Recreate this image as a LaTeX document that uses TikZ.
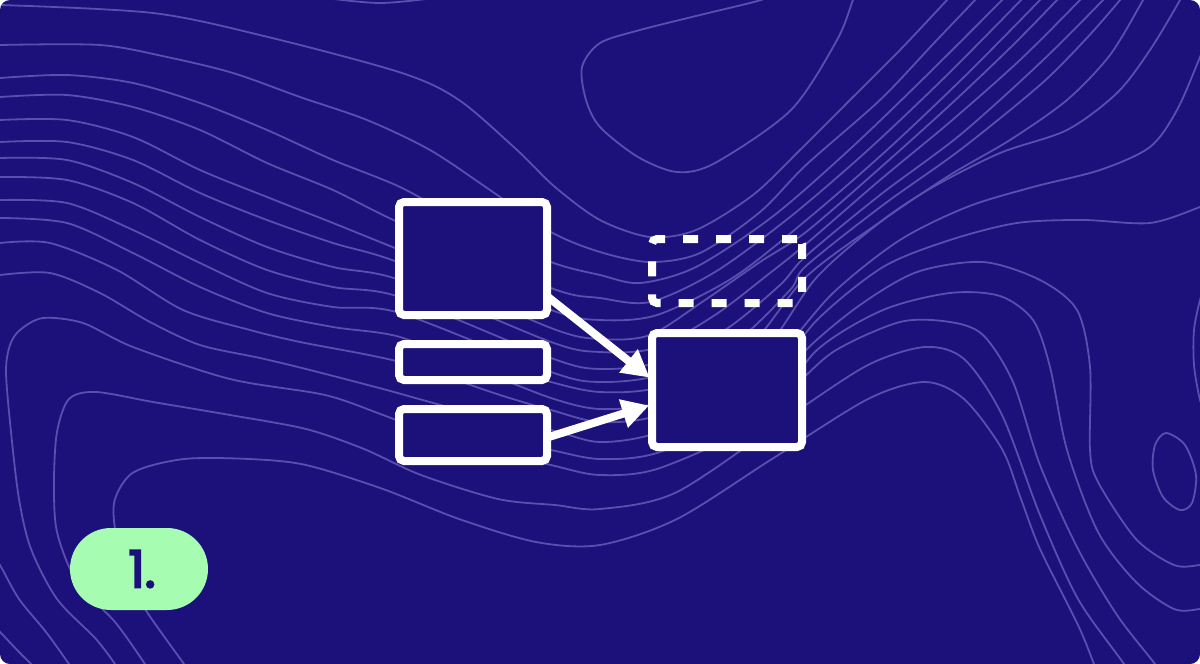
\documentclass[tikz,border=0pt]{standalone}
\usepackage{fontspec}
\newfontfamily\badgefont{Poppins}[FakeBold=4]
\usetikzlibrary{arrows.meta}
\definecolor{bg}{RGB}{28,17,122}
\definecolor{contourc}{RGB}{90,79,174}
\definecolor{mint}{RGB}{166,253,178}
\definecolor{ink}{RGB}{28,17,122}
\begin{document}
\begin{tikzpicture}[x=1pt,y=-1pt,
  contour/.style={draw=contourc, line width=1.8pt, line cap=round, line join=round},
  box/.style={rectangle, draw=white, line width=8pt, fill=bg, rounded corners=5pt, inner sep=0pt, outer sep=0pt},
  dashbox/.style={rectangle, draw=white, line width=8pt, rounded corners=5pt, dash pattern=on 15pt off 18pt, inner sep=0pt, outer sep=0pt},
  arrowline/.style={draw=white, line width=8pt, -{Triangle[length=27pt,width=28pt]}, shorten >=3pt},
  badge/.style={rectangle, fill=mint, rounded corners=41pt, minimum width=138pt, minimum height=82pt, inner sep=0pt},
  badgetext/.style={inner sep=0pt, text=ink, font=\badgefont\fontsize{51}{51}\selectfont}
]
\useasboundingbox (0,0) rectangle (1200,664);
\fill[white] (0,0) rectangle (1200,664);
\fill[bg, rounded corners=10pt] (0,0) rectangle (1200,664);

% contour lines
\begin{scope}
\clip[rounded corners=10pt] (0,0) rectangle (1200,664);
\draw[contour] plot[smooth] coordinates {(0,5) (153,13) (268,37) (402,73) (459,100) (517,150) (555,187) (600,220) (650,237) (696,230) (753,195) (800,150) (850,100) (900,50) (947,0) (960,-15)};
\draw[contour] plot[smooth] coordinates {(0,45) (100,45) (167,57) (233,73) (300,97) (367,120) (430,150) (490,190) (551,232) (600,252) (650,262) (700,253) (760,212) (806,165) (880,100) (935,42) (975,0) (988,-15)};
\draw[contour] plot[smooth] coordinates {(0,78) (67,75) (133,83) (200,103) (267,130) (333,160) (400,187) (470,225) (551,262) (600,275) (640,283) (696,267) (772,217) (849,150) (925,77) (1002,0) (1015,-15)};
\draw[contour] plot[smooth] coordinates {(0,97) (67,95) (133,107) (200,130) (267,163) (333,190) (400,223) (551,288) (600,298) (650,302) (715,272) (790,217) (868,150) (945,77) (1021,0) (1034,-15)};
\draw[contour] plot[smooth] coordinates {(0,120) (67,120) (133,137) (200,170) (267,197) (333,223) (400,250) (551,310) (600,320) (657,315) (734,277) (810,217) (887,150) (964,77) (1040,0) (1053,-15)};
\draw[contour] plot[smooth] coordinates {(0,142) (67,142) (133,160) (200,193) (267,220) (333,243) (400,263) (551,328) (600,339) (650,335) (705,300) (760,262) (806,232) (880,168) (950,105) (1010,48) (1057,0) (1070,-15)};
\draw[contour] plot[smooth] coordinates {(0,158) (67,160) (133,183) (200,217) (267,247) (333,267) (400,280) (551,342) (600,352) (655,348) (715,315) (770,273) (806,244) (880,180) (950,122) (1020,60) (1080,0) (1093,-15)};
\draw[contour] plot[smooth] coordinates {(0,177) (67,180) (133,203) (200,240) (267,270) (333,287) (400,297) (551,358) (600,369) (660,362) (725,330) (780,285) (806,256) (880,195) (960,135) (1040,63) (1103,0) (1114,-15)};
\draw[contour] plot[smooth] coordinates {(0,200) (67,203) (133,230) (200,263) (267,293) (333,307) (400,313) (551,372) (600,382) (660,375) (735,342) (790,290) (806,266) (883,205) (960,150) (1040,85) (1085,40) (1120,0) (1130,-15)};
\draw[contour] plot[smooth] coordinates {(500,365) (551,382) (600,392) (660,387) (745,350) (806,277) (880,222) (950,175) (1010,140) (1067,100) (1110,55) (1143,0) (1150,-15)};
\draw[contour] plot[smooth] coordinates {(0,218) (67,223) (133,253) (200,287) (267,313) (333,327) (400,337) (480,370) (551,398) (600,409) (660,402) (755,360) (817,277) (883,220) (933,187) (1000,153) (1067,130) (1117,93) (1150,50) (1180,0) (1186,-15)};
\draw[contour] plot[smooth] coordinates {(0,243) (50,243) (117,270) (183,310) (250,330) (300,342) (400,362) (500,395) (551,410) (600,422) (660,415) (760,372) (833,293) (900,240) (967,207) (1033,187) (1100,170) (1150,147) (1177,110) (1200,57) (1210,30)};
\draw[contour] plot[smooth] coordinates {(0,275) (50,273) (100,293) (150,322) (200,345) (260,358) (306,369) (383,389) (460,410) (551,430) (600,442) (660,432) (760,388) (817,320) (883,267) (950,240) (1017,223) (1083,220) (1150,223) (1200,207) (1215,200)};
\draw[contour] plot[smooth] coordinates {(500,440) (551,450) (600,459) (660,452) (760,405) (806,350) (860,305) (917,272) (983,262) (1040,280) (1077,310) (1090,367) (1090,450) (1098,482) (1136,539) (1174,565) (1200,565) (1215,562)};
\draw[contour] plot[smooth] coordinates {(115,664) (96,639) (57,599) (31,549) (19,499) (11,432) (6,372) (10,345) (20,330) (43,318) (83,323) (133,347) (230,379) (325,395) (383,415) (450,440) (551,465) (600,475) (660,468) (760,420) (817,350) (883,310) (950,293) (1000,296) (1033,320) (1050,367) (1067,450) (1098,532) (1136,582) (1174,609) (1200,609) (1215,606)};
\draw[contour] plot[smooth] coordinates {(787,395) (833,352) (900,322) (950,322) (983,335) (1013,382) (1040,465) (1078,549) (1117,615) (1155,664) (1165,680)};
\draw[contour] plot[smooth] coordinates {(155,680) (145,664) (115,622) (77,582) (57,532) (54,482) (57,432) (69,399) (96,392) (153,402) (230,415) (306,429) (364,449) (421,475) (498,499) (555,505) (600,509) (677,492) (791,415) (868,365) (925,347) (964,359) (1002,415) (1040,515) (1078,599) (1124,664) (1132,680)};
\draw[contour] plot[smooth] coordinates {(195,680) (184,664) (145,609) (125,570) (115,529) (115,499) (134,472) (184,459) (249,459) (306,465) (383,489) (459,519) (536,542) (600,545) (677,519) (772,459) (868,399) (925,382) (964,399) (1002,449) (1021,499) (1040,549) (1078,625) (1094,664) (1100,680)};
% top loop
\draw[contour] plot[smooth] coordinates {(775,-8) (761,0) (700,15) (640,30) (600,43) (582,67) (586,100) (600,127) (638,157) (677,172) (715,163) (791,110) (837,40) (853,0) (858,-10)};
% small arc top
\draw[contour] plot[smooth] coordinates {(310,-4) (380,3) (450,-4)};
% bottom-left lines
\draw[contour] plot[smooth] coordinates {(-10,550) (0,565) (19,599) (46,632) (69,664) (80,680)};
\draw[contour] plot[smooth] coordinates {(-10,622) (0,632) (19,652) (31,664) (40,675)};
% right arc
\draw[contour] plot[smooth] coordinates {(1206,285) (1200,300) (1194,330) (1194,365) (1200,400) (1206,412)};
% ellipse
\draw[contour] plot[smooth cycle] coordinates {(1166,433) (1185,445) (1196,475) (1192,503) (1180,510) (1163,497) (1153,470) (1155,445)};
\end{scope}

% boxes
\node[box, minimum width=148pt, minimum height=113pt] (A) at (473,258.5) {};
\node[box, minimum width=148pt, minimum height=36pt] (B) at (473,362) {};
\node[box, minimum width=148pt, minimum height=52pt] (C) at (473,435) {};
\node[dashbox, minimum width=150pt, minimum height=64pt] (E) at (727,271) {};
\node[box, minimum width=150pt, minimum height=114pt] (D) at (727,390) {};

% arrows
\draw[arrowline] (A.333) -- (D.172);
\draw[arrowline] (C.358) -- (D.191);

% badge
\node[badge] (N) at (139,569) {};
\node[badgetext] (T) at (142,569) {1.};
\end{tikzpicture}
\end{document}
